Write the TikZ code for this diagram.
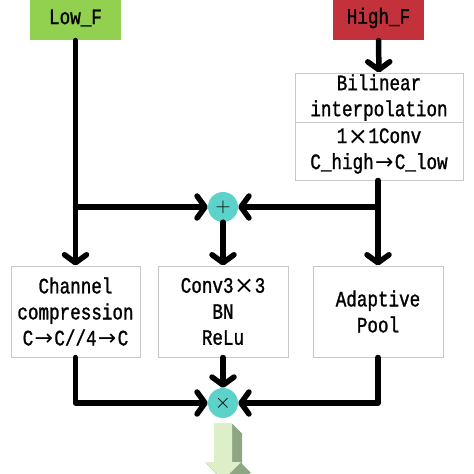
\documentclass[tikz,border=0pt]{standalone}
\usepackage{fontspec}
\newfontfamily\boxfont[FakeStretch=0.8,FakeBold=1.2]{Liberation Mono}
\newfontfamily\symfont{DejaVu Sans}
\newcommand{\wideto}{\makebox[21.1pt]{\symfont\fontsize{22}{26}\selectfont →}}
\newcommand{\widex}{\makebox[21.1pt]{\raisebox{-1pt}{\symfont\fontsize{24}{26}\selectfont ×}}}
\usetikzlibrary{arrows.meta}
\definecolor{lowgreen}{HTML}{92D050}
\definecolor{highred}{HTML}{C3313B}
\definecolor{opcyan}{HTML}{5CD2CB}
\definecolor{boxgray}{HTML}{C8C8C8}
\definecolor{outlight}{HTML}{DDEFC8}
\definecolor{outdark}{HTML}{8FA684}
\tikzset{
  blockbox/.style={draw=boxgray, line width=1pt, align=center, inner sep=0pt,
    font=\boxfont\fontsize{22}{26}\selectfont},
  opnode/.style={circle, fill=opcyan, minimum size=30pt, inner sep=0pt,
    font=\fontsize{20}{20}\selectfont},
  flow/.style={line width=5.5pt, line cap=round, line join=round,
    -{Straight Barb[length=8pt,width=22pt,round]}},
}
\begin{document}
\begin{tikzpicture}[x=1pt,y=-1pt]
	\useasboundingbox (0,0) rectangle (474,474);
	% inputs
	\node[blockbox, fill=lowgreen, draw=none, minimum width=91pt, minimum height=44pt] (low) at (75.5,18) {Low\_F};
	\node[blockbox, fill=highred, draw=none, minimum width=91pt, minimum height=44pt] (high) at (378.5,18) {High\_F};
	% upsampling branch
	\node[blockbox, minimum width=168pt, minimum height=49pt] (bil) at (379,97.5) {Bilinear\\interpolation};
	\node[blockbox, minimum width=168pt, minimum height=58pt] (proj) at (379,151) {1\widex 1Conv\\C\_high\wideto C\_low};
	% fusion
	\node[opnode] (plus) at (223,207) {$+$};
	\node[blockbox, minimum width=129pt, minimum height=91pt] (chan) at (75.5,311.5) {Channel\\compression\\C\wideto C//4\wideto C};
	\node[blockbox, minimum width=130pt, minimum height=91pt] (conv) at (223,311.5) {Conv3\widex 3\\BN\\ReLu};
	\node[blockbox, minimum width=130pt, minimum height=91pt] (pool) at (378,311.5) {Adaptive\\Pool};
	\node[opnode] (times) at (223,403) {$\times$};
	% connectors
	\draw[flow] (high) -- (bil);
	\draw[flow] (low) -- (chan);
	\draw[flow] (low.south |- plus) -- (plus);
	\draw[flow] (proj.south -| pool) -- (pool);
	\draw[flow] (pool.north |- plus) -- (plus);
	\draw[flow] (plus) -- (conv);
	\draw[flow] (chan) |- (times);
	\draw[flow] (pool) |- (times);
	\draw[flow] (conv) -- (times);
	% output arrow
	\foreach \d in {1,...,10}
		\fill[outdark] (214+\d,423+\d) -- (232+\d,423+\d) -- (232+\d,462+\d) -- (241+\d,462+\d) -- (223+\d,480+\d) -- (205+\d,462+\d) -- (214+\d,462+\d) -- cycle;
	\fill[outlight] (214,423) -- (232,423) -- (232,462) -- (241,462) -- (223,480) -- (205,462) -- (214,462) -- cycle;
\end{tikzpicture}
\end{document}
